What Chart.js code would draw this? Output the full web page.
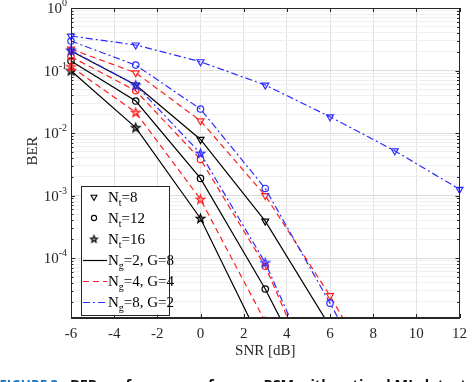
<!DOCTYPE html>
<html><head><meta charset="utf-8">
<script src="https://cdn.jsdelivr.net/npm/chart.js@4.4.0/dist/chart.umd.min.js"></script>
<style>html,body{margin:0;padding:0;background:#fff}#wrap{width:474px;height:382px;position:relative}</style>
</head><body><div id="wrap"><canvas id="c"></canvas></div>
<script>
// ---- data ----
const snrDb = [-6, -3, 0, 3, 6, 9, 12];
const xTickValues = [-6, -4, -2, 0, 2, 4, 6, 8, 10, 12];
const yDecadeExponents = [0, -1, -2, -3, -4];
const berNg2Nt8  = [0.205, 0.0586, 0.0079, 3.9e-4, 8e-6];
const berNg2Nt12 = [0.142, 0.0325, 0.00188, 3.2e-5, 3e-7];
const berNg2Nt16 = [0.099, 0.0122, 4.3e-4, 3.3e-6];
const berNg4Nt8  = [0.22, 0.092, 0.0157, 1.0e-3, 2.5e-5, 4e-7];
const berNg4Nt12 = [0.166, 0.0475, 0.00379, 7.4e-5, 3e-7];
const berNg4Nt16 = [0.115, 0.0214, 8.7e-4, 9.6e-6];
const berNg8Nt8  = [0.356, 0.256, 0.138, 0.0586, 0.0182, 0.0052, 0.00126];
const berNg8Nt12 = [0.296, 0.122, 0.0242, 0.0013, 1.9e-5, 2.4e-7];
const berNg8Nt16 = [0.21, 0.0586, 0.00473, 8.4e-5, 4e-7];
const markerLegend = [['N', 't', '=8'], ['N', 't', '=12'], ['N', 't', '=16']];
const lineLegend = [['N', 'g', '=2, G=8'], ['N', 'g', '=4, G=4'], ['N', 'g', '=8, G=2']];
const xTitle = 'SNR [dB]';
const yTitle = 'BER';
const captionLead = 'FIGURE 3.';
const captionText = 'BER performance of group PSM with optimal ML detector';

// ---- styles ----
const SERIF = '"Liberation Serif", "Times New Roman", serif';
const BLACK = '#000000', RED = '#ff1f1f', BLUE = '#2b2bff';
const DASH = { black: [], red: [6, 4], blue: [7, 3, 2, 3] };

function starCanvas(color, outer, fillAlpha) {
  const size = Math.ceil(outer * 2 + 3);
  const c = document.createElement('canvas');
  c.width = size; c.height = size;
  const g = c.getContext('2d');
  const cx = size / 2, cy = size / 2 + 0.3;
  g.beginPath();
  for (let i = 0; i < 10; i++) {
    const a = -Math.PI / 2 + i * Math.PI / 5;
    const r = i % 2 ? outer * 0.42 : outer;
    const px = cx + r * Math.cos(a), py = cy + r * Math.sin(a);
    if (i === 0) g.moveTo(px, py); else g.lineTo(px, py);
  }
  g.closePath();
  g.globalAlpha = fillAlpha; g.fillStyle = color; g.fill();
  g.globalAlpha = 1; g.strokeStyle = color; g.lineWidth = 1.2; g.stroke();
  return c;
}
const stars = { [BLACK]: starCanvas(BLACK, 4.6, 0.4), [RED]: starCanvas(RED, 4.6, 0.4), [BLUE]: starCanvas(BLUE, 4.6, 0.4) };
const legendStar = starCanvas(BLACK, 3.6, 0.15);

function markerOpts(kind, color) {
  if (kind === 'tri') return { pointStyle: 'triangle', rotation: 180, radius: 4 };
  if (kind === 'circ') return { pointStyle: 'circle', rotation: 0, radius: 3.2 };
  return { pointStyle: stars[color], rotation: 0, radius: 5 };
}

function ds(label, values, color, dash, kind) {
  const m = markerOpts(kind, color);
  return {
    label,
    data: values.map((v, i) => ({ x: snrDb[i], y: v })),
    borderColor: color, backgroundColor: color, borderWidth: 1.2, borderDash: dash,
    pointStyle: m.pointStyle, pointRotation: m.rotation, pointRadius: m.radius, pointHoverRadius: m.radius,
    pointBorderColor: color, pointBackgroundColor: 'rgba(0,0,0,0)', pointBorderWidth: 1.2,
    tension: 0, fill: false, clip: { left: 6, right: 6, top: 2, bottom: 0 }
  };
}

const datasets = [
  ds('Ng=8 Nt=8', berNg8Nt8, BLUE, DASH.blue, 'tri'),
  ds('Ng=8 Nt=12', berNg8Nt12, BLUE, DASH.blue, 'circ'),
  ds('Ng=8 Nt=16', berNg8Nt16, BLUE, DASH.blue, 'star'),
  ds('Ng=4 Nt=8', berNg4Nt8, RED, DASH.red, 'tri'),
  ds('Ng=4 Nt=12', berNg4Nt12, RED, DASH.red, 'circ'),
  ds('Ng=4 Nt=16', berNg4Nt16, RED, DASH.red, 'star'),
  ds('Ng=2 Nt=8', berNg2Nt8, BLACK, DASH.black, 'tri'),
  ds('Ng=2 Nt=12', berNg2Nt12, BLACK, DASH.black, 'circ'),
  ds('Ng=2 Nt=16', berNg2Nt16, BLACK, DASH.black, 'star')
];

const Y_MIN = 1.1e-5, Y_MAX = 1;
function isDecade(v) { const l = Math.log10(v); return Math.abs(l - Math.round(l)) < 1e-9; }

function drawSubText(g, x, baseline, parts) {
  g.textAlign = 'left'; g.textBaseline = 'alphabetic';
  g.font = '15px ' + SERIF; g.fillText(parts[0], x, baseline);
  x += g.measureText(parts[0]).width;
  g.font = '10px ' + SERIF; g.fillText(parts[1], x, baseline + 4);
  x += g.measureText(parts[1]).width;
  g.font = '15px ' + SERIF; g.fillText(parts[2], x, baseline);
}

const decorPlugin = {
  id: 'decor',
  afterDraw(chart) {
    const g = chart.ctx, a = chart.chartArea;
    const xs = chart.scales.x, ys = chart.scales.y;
    g.save();
    // box
    g.strokeStyle = '#262626'; g.lineWidth = 1; g.setLineDash([]);
    g.strokeRect(Math.round(a.left) + 0.5, Math.round(a.top) + 0.5, Math.round(a.right - a.left) - 1, Math.round(a.bottom - a.top) - 1);
    // inner ticks x
    g.beginPath();
    xTickValues.forEach(v => {
      const px = Math.round(xs.getPixelForValue(v)) + 0.5;
      g.moveTo(px, a.bottom); g.lineTo(px, a.bottom - 4);
      g.moveTo(px, a.top); g.lineTo(px, a.top + 4);
    });
    // inner ticks y
    ys.ticks.forEach(t => {
      const py = Math.round(ys.getPixelForValue(t.value)) + 0.5;
      const len = isDecade(t.value) ? 4 : 2.5;
      g.moveTo(a.left, py); g.lineTo(a.left + len, py);
      g.moveTo(a.right, py); g.lineTo(a.right - len, py);
    });
    g.stroke();
    // y tick labels 10^n
    g.fillStyle = '#262626';
    yDecadeExponents.forEach(e => {
      const py = ys.getPixelForValue(Math.pow(10, e));
      const exp = e === 0 ? '0' : '-' + Math.abs(e);
      g.font = '10px ' + SERIF; const we = g.measureText(exp).width;
      g.font = '15px ' + SERIF; const wb = g.measureText('10').width;
      const right = a.left - 4;
      g.textAlign = 'left'; g.textBaseline = 'alphabetic';
      g.fillText('10', right - we - wb, py + 5);
      g.font = '10px ' + SERIF; g.fillText(exp, right - we, py - 2);
    });
    // axis titles
    g.font = '15px ' + SERIF; g.textAlign = 'center'; g.textBaseline = 'alphabetic';
    g.fillText(xTitle, (a.left + a.right) / 2, 355);
    g.save(); g.translate(37, 151); g.rotate(-Math.PI / 2); g.fillText(yTitle, 0, 0); g.restore();
    // legend
    const bx = 81.5, by = 186.5, bw = 88, bh = 129;
    g.fillStyle = '#ffffff'; g.fillRect(bx, by, bw, bh);
    g.strokeStyle = '#262626'; g.lineWidth = 1; g.strokeRect(bx, by, bw, bh);
    const rows = [197, 218, 239, 260, 281, 302];
    const mk = ['tri', 'circ', 'star'];
    markerLegend.forEach((parts, i) => {
      g.strokeStyle = BLACK; g.fillStyle = 'rgba(0,0,0,0)'; g.lineWidth = 1.1;
      const opts = mk[i] === 'tri' ? { pointStyle: 'triangle', rotation: 180, radius: 3.4, borderWidth: 1.1 }
                 : mk[i] === 'circ' ? { pointStyle: 'circle', rotation: 0, radius: 2.6, borderWidth: 1.1 }
                 : { pointStyle: legendStar, rotation: 0, radius: 4, borderWidth: 1.1 };
      Chart.helpers.drawPoint(g, opts, 94, rows[i]);
      g.fillStyle = '#000';
      drawSubText(g, 108, rows[i] + 5, parts);
    });
    const lc = [BLACK, RED, BLUE], ld = [DASH.black, DASH.red, DASH.blue];
    lineLegend.forEach((parts, i) => {
      const y = rows[3 + i] + 0.5;
      g.strokeStyle = lc[i]; g.lineWidth = 1.2; g.setLineDash(ld[i]);
      g.beginPath(); g.moveTo(83, y); g.lineTo(107, y); g.stroke();
      g.setLineDash([]);
      g.fillStyle = '#000';
      drawSubText(g, 108, rows[3 + i] + 5, parts);
    });
    // caption (cut off at bottom of the picture)
    g.font = 'bold 14px "Open Sans", sans-serif'; g.textAlign = 'left';
    const wl = g.measureText(captionLead).width;
    g.fillStyle = '#1a75c2';
    g.save(); g.translate(62, 390); g.scale(0.95, 1); g.fillText(captionLead, -wl, 0); g.restore();
    const wt = g.measureText(captionText).width;
    g.fillStyle = '#111';
    g.save(); g.translate(70, 390); g.scale(412 / wt, 1); g.fillText(captionText, 0, 0); g.restore();
    g.restore();
  }
};

new Chart(document.getElementById('c'), {
  type: 'line',
  data: { datasets },
  plugins: [decorPlugin],
  options: {
    responsive: true, maintainAspectRatio: false, animation: false,
    layout: { padding: { top: 8, right: 9, left: 0, bottom: 0 } },
    plugins: { legend: { display: false }, tooltip: { enabled: false } },
    scales: {
      x: {
        type: 'linear', min: -6, max: 12,
        afterFit: s => { s.height = 64; },
        afterBuildTicks: s => { s.ticks = xTickValues.map(v => ({ value: v })); },
        ticks: { color: '#262626', font: { family: SERIF, size: 15 }, padding: 7, maxRotation: 0, autoSkip: false },
        grid: { color: '#e2e2e2', lineWidth: 1, drawTicks: false },
        border: { display: true, color: '#262626', width: 1 }
      },
      y: {
        type: 'logarithmic', min: Y_MIN, max: Y_MAX,
        afterFit: s => { s.width = 71; },
        afterBuildTicks: s => {
          const t = [];
          for (let e = -5; e <= 0; e++) for (let m = 1; m <= 9; m++) {
            const v = m * Math.pow(10, e);
            if (v >= Y_MIN && v <= Y_MAX * 1.0000001) t.push({ value: v, major: m === 1 });
          }
          s.ticks = t;
        },
        ticks: { display: false },
        grid: { color: c => (c.tick && isDecade(c.tick.value)) ? '#dcdcdc' : '#efefef', lineWidth: 1, drawTicks: false },
        border: { display: true, color: '#262626', width: 1 }
      }
    }
  }
});
</script>
</body></html>
